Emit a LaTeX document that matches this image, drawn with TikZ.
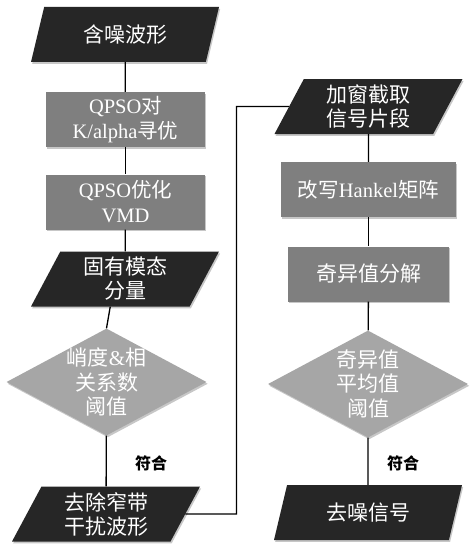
\documentclass[tikz,border=0pt]{standalone}
\usepackage{fontspec}
\setmainfont{Liberation Serif}
\newfontfamily\cjk{Noto Sans CJK SC}
\usetikzlibrary{shapes.geometric,shadows}
\definecolor{darkfill}{HTML}{262626}
\definecolor{boxfill}{HTML}{7F7F7F}
\definecolor{diafill}{HTML}{A6A6A6}
\begin{document}
\begin{tikzpicture}[x=1pt,y=-1pt,
  shad/.style={drop shadow={shadow xshift=1.2pt,shadow yshift=-1.8pt,opacity=0.22,fill=black}},
  io/.style={trapezium, trapezium left angle=56, trapezium right angle=124,
    trapezium stretches body, minimum width=188pt, minimum height=55pt,
    inner sep=0pt, fill=darkfill, text=white, align=center,
    font=\cjk\fontsize{21}{24}\selectfont, shad},
  proc/.style={rectangle, minimum height=55pt, inner sep=0pt, fill=boxfill,
    text=white, align=center, font=\fontsize{20.5}{25}\selectfont, shad},
  dec/.style={diamond, minimum width=200pt, minimum height=107pt, inner sep=0pt,
    fill=diafill, shad},
  dectext/.style={text=white, align=center, font=\cjk\fontsize{21}{24.5}\selectfont},
  lbl/.style={font=\cjk\bfseries\fontsize{16}{18}\selectfont},
  conn/.style={draw=black, line width=1.3pt}]
\fill[white] (0,0) rectangle (474,551);
\useasboundingbox (0,0) rectangle (474,551);
% left column
\node[io] (p1) at (125,34.5) {含噪波形};
\node[proc, minimum width=159pt] (r1) at (125.5,119.5) {QPSO{\cjk 对}\\K/alpha{\cjk 寻优}};
\node[proc, minimum width=159pt] (r2) at (125.5,202) {QPSO{\cjk 优化}\\VMD};
\node[io] (p2) at (125,279) {固有模态\\分量};
\node[dec] (d1) at (106.5,382) {};
\node[dectext] at (d1) {峭度{\rmfamily\&}相\\关系数\\阈值};
\node[io] (p3) at (106,514) {去除窄带\\干扰波形};
% right column
\node[io] (p4) at (368.5,106.5) {加窗截取\\信号片段};
\node[proc, minimum width=175pt] (r3) at (368.5,189.5) {{\cjk 改写}Hankel{\cjk 矩阵}};
\node[proc, minimum width=161pt, font=\cjk\fontsize{21}{25}\selectfont] (r4) at (368.5,274) {奇异值分解};
\node[dec] (d2) at (368,384) {};
\node[dectext] at (d2) {奇异值\\平均值\\阈值};
\node[io] (p5) at (368,512.5) {去噪信号};
% labels
\node[lbl] (l1) at (151,463) {符合};
\node[lbl] (l2) at (403,463) {符合};
% connectors
\coordinate (bend) at (236.5,106.5);
\draw[conn] (p1) -- (r1);
\draw[conn] (r1) -- (r2);
\draw[conn] (r2) -- (p2);
\draw[conn] (p2.bottom side) -- (d1.north);
\draw[conn] (d1) -- (p3);
\draw[conn] (p3) -| (bend) -- (p4);
\draw[conn] (p4) -- (r3);
\draw[conn] (r3) -- (r4);
\draw[conn] (r4) -- (d2);
\draw[conn] (d2) -- (p5);
\end{tikzpicture}
\end{document}
